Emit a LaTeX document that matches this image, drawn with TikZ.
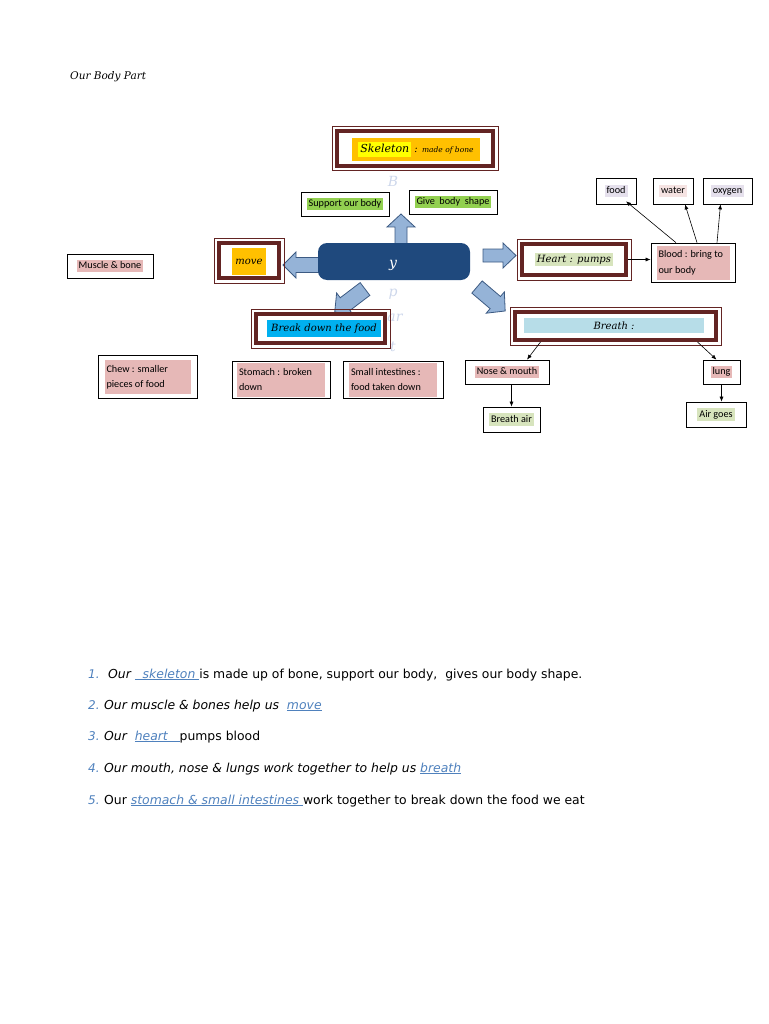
\documentclass[tikz,border=0pt]{standalone}
\usepackage{fontspec}
\usepackage{tikz}
\usetikzlibrary{arrows.meta,calc}
\setmainfont{DejaVu Serif}
\newfontfamily\boxfont{Carlito}
\newfontfamily\notefont{DejaVu Sans}
\definecolor{framered}{RGB}{99,36,35}
\definecolor{orangehl}{RGB}{255,192,0}
\definecolor{yellowhl}{RGB}{255,255,0}
\definecolor{greenhl}{RGB}{146,208,80}
\definecolor{palegreen}{RGB}{215,228,189}
\definecolor{pinkhl}{RGB}{230,184,183}
\definecolor{lavender}{RGB}{229,224,236}
\definecolor{bluehl}{RGB}{0,176,240}
\definecolor{lightblue}{RGB}{183,221,232}
\definecolor{blobblue}{RGB}{31,73,125}
\definecolor{arrowfill}{RGB}{149,179,215}
\definecolor{arrowdraw}{RGB}{60,90,130}
\definecolor{ghostblue}{RGB}{205,215,235}
\definecolor{ansblue}{RGB}{79,129,189}
\tikzset{
  box/.style={draw=black, line width=0.7pt, fill=white, align=left, inner sep=0pt, font=\boxfont\fontsize{10.2}{15}\selectfont},
  frame/.style={draw=framered, line width=4pt, fill=white, inner sep=0pt},
  rim/.style={draw=framered, line width=0.6pt},
  inner/.style={inner sep=0pt, font=\itshape\fontsize{10}{12}\selectfont},
  thinarrow/.style={-{Latex[length=5pt,width=4pt]}, line width=0.6pt},
  blockarr/.style={draw=arrowdraw, fill=arrowfill, line width=0.8pt},
  ghost/.style={text=ghostblue, inner sep=0pt, font=\itshape\fontsize{14}{14}\selectfont},
  sentence/.style={anchor=base west, inner sep=0pt, font=\notefont\fontsize{12.4}{14}\selectfont},
  num/.style={anchor=base west, inner sep=0pt, text=ansblue, font=\notefont\itshape\fontsize{12}{14}\selectfont}
}
\newcommand\hl[2]{{\setlength\fboxsep{2pt}\colorbox{#1}{\vphantom{Agy}#2}}}
\newcommand\hltwo[3]{{\setlength\fboxsep{2pt}\colorbox{#1}{\begin{tabular}{@{}p{#2pt}@{}}#3\end{tabular}}}}
\newcommand\ans[1]{\textcolor{ansblue}{\underline{\itshape #1}}}
\newcommand\blockarrow[5]{\draw[blockarr, shift={#1}, rotate=#2] (0,-#4) -- ({#3-13},-#4) -- ({#3-13},-#5) -- (#3,0) -- ({#3-13},#5) -- ({#3-13},#4) -- (0,#4) -- cycle;}

\begin{document}
\begin{tikzpicture}[x=1pt, y=-1pt]
\useasboundingbox (0,0) rectangle (768,1024);
\node[anchor=west, inner sep=0pt, font=\itshape\fontsize{10.5}{12}\selectfont] (title) at (70,77) {Our Body Part};

\node[ghost] (gB) at (393,181) {B};
\node[ghost] (gp) at (393,294) {p};
\node[ghost] (gar) at (395,318) {ar};
\node[ghost] (gt) at (393,347) {t};

\node[frame, minimum width=156, minimum height=35] (sk) at (415,148.5) {};
\node[inner, fill=orangehl, minimum width=128, minimum height=23] (sktxt) at (416,149.5) {\hl{yellowhl}{\fontsize{11}{12}\selectfont Skeleton} : {\fontsize{7.5}{9}\selectfont made of bone}};
\node[box, minimum width=88, minimum height=24] (sup) at (345,204) {\hl{greenhl}{Support our body}};
\node[box, minimum width=88, minimum height=24] (give) at (453,202) {\hl{greenhl}{Give\ \ body\ \ shape}};

\blockarrow{(401,252)}{90}{38}{6}{14}
\blockarrow{(330,265)}{180}{47}{7.5}{13}
\blockarrow{(483,255.5)}{0}{33}{6.5}{12.5}
\blockarrow{(365,289)}{-142.8}{38}{8}{14}
\blockarrow{(477,287)}{-40.4}{37}{8}{14}

\node[fill=blobblue, rounded corners=9pt, minimum width=152, minimum height=37] (blob) at (394,261.5) {};
\node[ghost, text=white] (gy) at (393,265) {y};

\node[frame, minimum width=60, minimum height=35] (mv) at (249,260.5) {};
\node[inner, fill=orangehl, minimum width=34, minimum height=27] (mvtxt) at (249,261.5) {move};
\node[box, minimum width=86, minimum height=24] (muscle) at (110,266) {\hl{pinkhl}{Muscle \& bone}};

\node[frame, inner, minimum width=104, minimum height=31] (ht) at (574,259.5) {\hl{palegreen}{Heart : pumps}};
\node[box, minimum width=84, minimum height=39] (blood) at (693,262.5) {\hltwo{pinkhl}{69}{Blood : bring to\\our body}};
\node[box, minimum width=40, minimum height=26] (food) at (616,191) {\hl{lavender}{food}};
\node[box, minimum width=40, minimum height=26] (water) at (673,191) {\hl{pinkhl!40}{water}};
\node[box, minimum width=49, minimum height=26] (oxygen) at (727.5,191) {\hl{lavender}{oxygen}};

\node[frame, minimum width=129, minimum height=29] (bd) at (320.5,328.5) {};
\node[inner, fill=bluehl, minimum width=114, minimum height=17] (bdtxt) at (324,328.5) {Break down the food};
\node[frame, minimum width=201, minimum height=28] (br) at (615.5,326) {};
\node[inner, fill=lightblue, minimum width=180, minimum height=15] (brtxt) at (614,325.5) {Breath :};

\foreach \f in {sk,mv,ht,bd,br}
  \draw[rim] ([shift={(-2.8,-2.8)}]\f.north west) rectangle ([shift={(2.8,2.8)}]\f.south east);

\node[box, minimum width=99, minimum height=43] (chew) at (147.5,376.5) {\hltwo{pinkhl}{82}{Chew : smaller\\pieces of food}};
\node[box, minimum width=98, minimum height=37] (stomach) at (281,379.5) {\hltwo{pinkhl}{84}{Stomach : broken\\down}};
\node[box, minimum width=100, minimum height=37] (intest) at (393,379.5) {\hltwo{pinkhl}{84}{Small intestines :\\food taken down}};
\node[box, minimum width=84, minimum height=24] (nose) at (507,372) {\hl{pinkhl}{Nose \& mouth}};
\node[box, minimum width=37, minimum height=24] (lung) at (721.5,372) {\hl{pinkhl}{lung}};
\node[box, minimum width=57, minimum height=25] (bair) at (511.5,419.5) {\hl{palegreen}{Breath air}};
\node[box, minimum width=60, minimum height=25] (agoes) at (716,414.5) {\hl{palegreen}{Air goes}};

\draw[thinarrow] (ht.east) -- (ht.east -| blood.west);
\draw[thinarrow] ([xshift=-17]blood.north) -- ([xshift=10,yshift=3]food.south);
\draw[thinarrow] ([xshift=4]blood.north) -- ([xshift=12]water.south);
\draw[thinarrow] ([xshift=24]blood.north) -- ([xshift=-7]oxygen.south);
\draw[thinarrow] ([xshift=-75]br.south) -- ([xshift=20]nose.north);
\draw[thinarrow] ([xshift=82]br.south) -- ([xshift=-5]lung.north);
\draw[thinarrow] (bair.north |- nose.south) -- (bair.north);
\draw[thinarrow] (lung.south) -- (lung.south |- agoes.north);

\node[num] (n1) at (88,678) {1.};
\node[sentence] (s1) at (108,678) {{\itshape Our} \ans{\ \ skeleton\ }is made up of bone, support our body,\ \ gives our body shape.};
\node[num] (n2) at (88,709) {2.};
\node[sentence] (s2) at (104,709) {{\itshape Our muscle \& bones help us}\ \ \ans{move}};
\node[num] (n3) at (88,740) {3.};
\node[sentence] (s3) at (104,740) {{\itshape Our}\ \ \ans{heart\ \ \ }pumps blood};
\node[num] (n4) at (88,772) {4.};
\node[sentence] (s4) at (104,772) {{\itshape Our mouth, nose \& lungs work together to help us} \ans{breath}};
\node[num] (n5) at (88,804) {5.};
\node[sentence] (s5) at (104,804) {Our \ans{stomach \& small intestines }work together to break down the food we eat};
\end{tikzpicture}
\end{document}
